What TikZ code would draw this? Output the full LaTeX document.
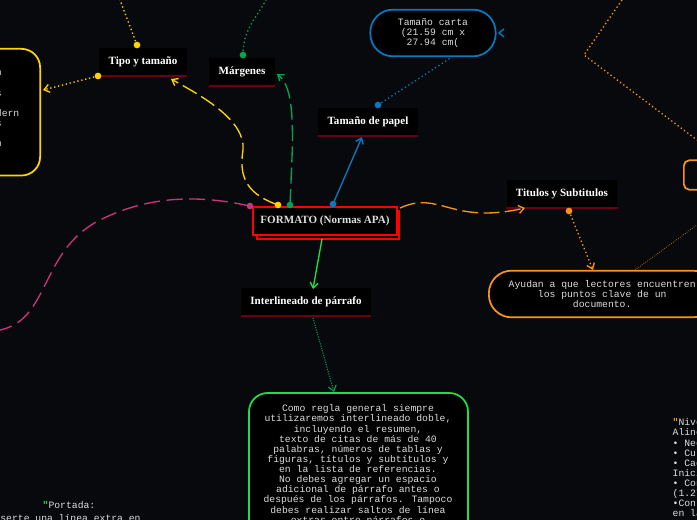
\documentclass[tikz,border=0pt]{standalone}
\usepackage{fontspec}
\setmainfont{Liberation Serif}
\newfontfamily\monof{Liberation Mono}
\usetikzlibrary{arrows.meta}
\definecolor{bg}{HTML}{08090C}
\definecolor{ylw}{HTML}{FFD400}
\definecolor{grn}{HTML}{00A651}
\definecolor{lgrn}{HTML}{22DD44}
\definecolor{blu}{HTML}{0A78C0}
\definecolor{org}{HTML}{F7941D}
\definecolor{pnk}{HTML}{C8357A}
\definecolor{dred}{HTML}{6A0010}
\definecolor{txt}{HTML}{DDDDDD}
\tikzset{
 x=0.75pt,y=-0.75pt,
 topic/.style={fill=black,text=white,font=\bfseries\fontsize{8.3}{10}\selectfont,minimum height=21pt,inner xsep=7pt},
 mono/.style={text=txt,font=\monof\fontsize{7.3}{7.6}\selectfont,align=center},
 dot/.style={circle,fill=#1,inner sep=0pt,minimum size=5pt},
 arr/.style={-{Straight Barb[length=4pt,width=6pt]}},
}
\begin{document}
\begin{tikzpicture}
\fill[bg] (0,0) rectangle (697,520);
\useasboundingbox (0,0) rectangle (697,520);
% nodes
\draw[red,line width=1.5pt] (257,211) rectangle (399,239);
\node[draw=red,line width=1.5pt,fill=black,text=txt,font=\bfseries\fontsize{8.3}{10}\selectfont,minimum width=108pt,minimum height=21pt] (fmt) at (325,221) {FORMATO (Normas APA)};
\node[topic] (tipo) at (143,62) {Tipo y tamaño};
\node[topic] (marg) at (242,72) {Márgenes};
\node[topic] (pap) at (368,122) {Tamaño de papel};
\node[topic] (tit) at (562,194) {Titulos y Subtitulos};
\node[topic] (int) at (306,302) {Interlineado de párrafo};
\foreach \n in {tipo,marg,pap,tit,int}{\draw[dred,line width=1.2pt] (\n.south west)--(\n.south east);}
\node[mono,draw=blu,line width=1.3pt,rounded corners=17pt,minimum width=94pt,minimum height=35pt,fill=black] (carta) at (433,33) {Tamaño carta\\(21.59 cm x\\27.94 cm(};
\node[mono,draw=org,line width=1.3pt,rounded corners=17pt,minimum width=170pt,minimum height=35pt,anchor=west,fill=black] (ayu) at (488,294) {Ayudan a que lectores encuentren\\los puntos clave de un\\documento.};
\draw[lgrn,line width=1.3pt,rounded corners=14pt,fill=black] (249,393) rectangle (468,540);
\node[mono,anchor=north] (rg) at (358,400) {Como regla general siempre\\utilizaremos interlineado doble,\\incluyendo el resumen,\\texto de citas de más de 40\\palabras, números de tablas y\\figuras, títulos y subtítulos y\\en la lista de referencias.\\No debes agregar un espacio\\adicional de párrafo antes o\\después de los párrafos. Tampoco\\debes realizar saltos de línea\\extras entre párrafos o};
\node[draw=ylw,line width=1.3pt,rounded corners=14pt,minimum width=60pt,minimum height=95pt,anchor=north east,fill=black] (yb) at (41,48) {};
\node[mono,align=left,anchor=north east] (ybt) at (24,54) {Times\\New Roman\\\\12 puntos\\\\Latin Modern\\12 puntos\\\\Se usa en};
\node[draw=org,line width=1.3pt,rounded corners=4pt,minimum width=30pt,minimum height=22pt,anchor=west] (br) at (683,175) {};
\node[mono,align=left,anchor=north west] (niv) at (668,414) {\textcolor{org}{\bfseries"}Nivel 1\\Alineado\\• Negrita\\• Cursiva\\• Cada\\Iniciar\\• Con\\(1.27\\•Con\\en la};
\node[mono,align=left,anchor=north west] (port) at (38,497) {\textcolor{lgrn}{\bfseries"}Portada:};
\node[mono,align=left,anchor=north west] (ins) at (-16,510) {Inserte una línea extra en};
% connectors
\coordinate (c1) at (120,0); \coordinate (c2) at (266,0);
\coordinate (c3) at (622,0); \coordinate (c4) at (584,55); \coordinate (c5) at (697,140);
\coordinate (c6) at (697,225); \coordinate (c7) at (0,330);
\draw[ylw,line width=1pt,dash pattern=on 12pt off 4pt,arr] (278,205) .. controls (250,195) and (238,180) .. (243,150) .. controls (246,120) and (200,95) .. (171,79);
\draw[ylw,line width=1pt,dotted,arr] (98,76) -- (43,90);
\node[dot=ylw] at (98,76) {};
\draw[ylw,line width=1pt,dotted] (137,45) -- (c1); \node[dot=ylw] at (137,45) {};
\node[dot=ylw] at (278,205) {};
\draw[grn,line width=1pt,dash pattern=on 12pt off 4pt,arr] (290,205) .. controls (292,150) and (298,90) .. (277,74);
\node[dot=grn] at (290,205) {};
\draw[grn,line width=1pt,dotted] (243,55) .. controls (243,30) and (255,20) .. (c2); \node[dot=grn] at (243,55) {};
\draw[blu,line width=1pt,arr] (333,204) -- (362,137); \node[dot=blu] at (333,204) {};
\draw[blu,line width=1pt,dotted] (378,105) -- (452,57); \node[dot=blu] at (378,105) {};
\draw[blu,line width=1pt] (504,29) -- (499,33) -- (504,37);
\draw[org,line width=1pt,dash pattern=on 12pt off 4pt,arr] (400,208) .. controls (440,190) and (450,225) .. (525,208);
\draw[org,line width=1pt,dotted,arr] (569,211) -- (593,270); \node[dot=org] at (569,211) {};
\draw[org!70!black,line width=0.6pt,densely dotted] (635,270) -- (c6);
\draw[org,line width=1pt,dotted] (c3) -- (c4) -- (c5);
\draw[lgrn,line width=1pt,arr] (322,239) -- (313,289);
\draw[grn,line width=0.8pt,densely dotted,arr] (313,318) -- (334,392);
\draw[pnk,line width=1pt,dash pattern=on 12pt off 5pt] (250,206) .. controls (200,195) and (150,195) .. (100,220) .. controls (40,250) and (50,320) .. (c7);
\node[dot=pnk] at (250,206) {};
\end{tikzpicture}
\end{document}
